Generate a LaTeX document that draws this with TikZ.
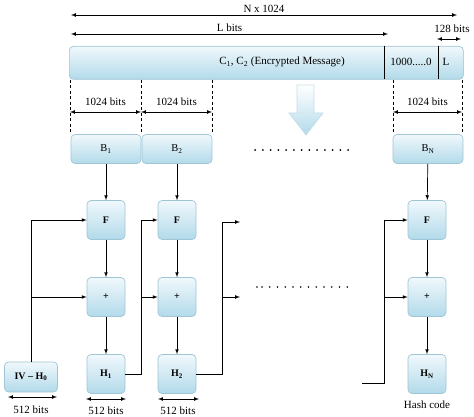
\documentclass[tikz,border=0pt]{standalone}
\usepackage{fontspec}
\setmainfont{Liberation Serif}
\usetikzlibrary{arrows}

\definecolor{boxtop}{RGB}{240,248,252}
\definecolor{boxbot}{RGB}{178,218,234}
\definecolor{boxline}{RGB}{160,198,212}

\tikzset{
  blk/.style={draw=boxline,rounded corners=4pt,top color=boxtop,bottom color=boxbot,
    minimum width=38pt,minimum height=39pt,inner sep=0pt,font=\fontsize{10}{10}\selectfont\bfseries},
  bbox/.style={blk,minimum width=70pt,minimum height=29pt,font=\fontsize{10.5}{10.5}\selectfont},
  lbl/.style={font=\fontsize{11}{11}\selectfont,inner sep=1pt},
  dim/.style={<->,>=latex},
}

\begin{document}
\begin{tikzpicture}[x=1pt,y=-1pt,>=latex,line width=0.7pt]
  \useasboundingbox (0,0) rectangle (474,417);

  % message bar
  \node[blk,minimum width=394pt,minimum height=33pt,anchor=north west] (msg) at (69,46) {};
  \node[lbl] (ctext) at (282,62) {C\textsubscript{1}, C\textsubscript{2} (Encrypted Message)};
  \node[lbl] (pad) at (411,62) {1000.....0};
  \node[lbl] (len) at (446,62) {L};
  \draw (384,46) -- (384,79);
  \draw (438,46) -- (438,79);

  % lengths above
  \coordinate (n0) at (71,15);
  \coordinate (n1) at (457,15);
  \draw[dim] (n0) -- node[lbl,above=1pt] (ntext) {N x 1024} (n1);
  \coordinate (l0) at (71,34);
  \coordinate (l1) at (388,34);
  \draw[dim] (l0) -- node[lbl,above=1pt] (ltext) {L bits} (l1);
  \coordinate (p0) at (437,39);
  \coordinate (p1) at (461,39);
  \node[lbl] (ptext) at (452,29) {128 bits};
  \draw[dim] (p0) -- (p1);

  % blocks
  \node[bbox] (b1) at (106,149) {B\textsubscript{1}};
  \node[bbox] (b2) at (177,149) {B\textsubscript{2}};
  \node[bbox] (bn) at (428,149) {B\textsubscript{N}};
  \foreach \x in {70,141,212,393,462}
    \draw[dashed,dash pattern=on 3pt off 2.5pt] (\x,80) -- (\x,132);
  \coordinate (d1) at (70,112);
  \coordinate (d2) at (141,112);
  \coordinate (d3) at (212,112);
  \coordinate (d4) at (393,112);
  \coordinate (d5) at (462,112);
  \draw[dim] (d1) -- node[lbl,above=5pt] {1024 bits} (d2);
  \draw[dim] (d2) -- node[lbl,above=5pt] {1024 bits} (d3);
  \draw[dim] (d4) -- node[lbl,above=5pt] {1024 bits} (d5);
  \foreach \i in {0,...,12}
    \fill (255+7.75*\i,150) circle (1pt);

  % big arrow
  \shade[top color=white,bottom color=boxbot,draw=boxline!60]
    (297,85) -- (314,85) -- (314,113) -- (323,113) -- (306,135) -- (289,113) -- (297,113) -- cycle;

  % compression stages
  \node[blk] (f1) at (106,220) {F};
  \node[blk] (a1) at (106,297) {+};
  \node[blk] (h1) at (106,374) {H\textsubscript{1}};
  \node[blk] (f2) at (177,220) {F};
  \node[blk] (a2) at (177,297) {+};
  \node[blk] (h2) at (177,374) {H\textsubscript{2}};
  \node[blk] (fn) at (427,220) {F};
  \node[blk] (an) at (427,297) {+};
  \node[blk] (hn) at (427,374) {H\textsubscript{N}};
  \node[blk,minimum width=53pt,minimum height=30pt] (iv) at (31,377) {IV -- H\textsubscript{0}};

  \draw[->] (b1) -- (f1);
  \draw[->] (f1) -- (a1);
  \draw[->] (a1) -- (h1);
  \draw[->] (b2) -- (f2);
  \draw[->] (f2) -- (a2);
  \draw[->] (a2) -- (h2);
  \draw[->] (bn) -- (fn);
  \draw[->] (fn) -- (an);
  \draw[->] (an) -- (hn);

  % chaining
  \draw[->] (iv.north) |- (f1.west);
  \draw[->] (31,297) -- (a1.west);
  \draw[->] (h1.east) -| (141,220) -- (f2.west);
  \draw[->] (141,297) -- (a2.west);
  \coordinate (out1) at (240,222);
  \coordinate (out2) at (240,297);
  \draw[->] (h2.east) -| (222,222) -- (out1);
  \draw[->] (222,297) -- (out2);
  \coordinate (inn) at (362,383);
  \draw[->] (inn) -| (384,220) -- (fn.west);
  \draw[->] (384,297) -- (an.west);
  \foreach \i in {0,...,11}
    \fill (262+7.75*\i,287) circle (0.9pt);
  \fill (257,287) circle (0.9pt);

  % widths below
  \draw[dim] (8,397) -- (57,397);
  \node[lbl] (iw) at (31,410) {512 bits};
  \draw[dim] (86,399) -- (126,399);
  \node[lbl] (h1w) at (106,411) {512 bits};
  \draw[dim] (158,399) -- (199,399);
  \node[lbl] (h2w) at (178,411) {512 bits};
  \node[lbl] (hash) at (427,405) {Hash code};

\end{tikzpicture}
\end{document}
